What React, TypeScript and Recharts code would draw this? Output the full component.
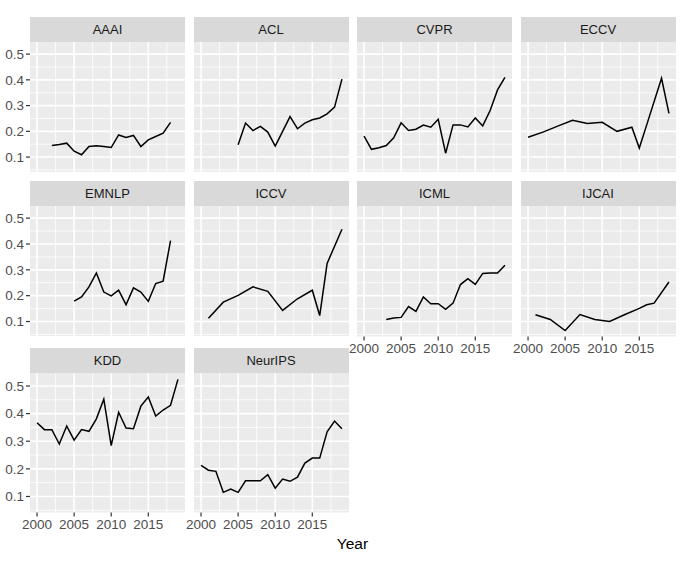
import React from 'react';
import { LineChart, Line, XAxis, YAxis, CartesianGrid } from 'recharts';

// ---- data ----
const AAAI_YEARS = [2002, 2003, 2004, 2005, 2006, 2007, 2008, 2009, 2010, 2011, 2012, 2013, 2014, 2015, 2016, 2017, 2018];
const AAAI_VALUES = [0.145, 0.149, 0.154, 0.123, 0.109, 0.141, 0.144, 0.141, 0.137, 0.186, 0.176, 0.184, 0.141, 0.167, 0.18, 0.193, 0.235];

const ACL_YEARS = [2005, 2006, 2007, 2008, 2009, 2010, 2011, 2012, 2013, 2014, 2015, 2016, 2017, 2018, 2019];
const ACL_VALUES = [0.148, 0.232, 0.203, 0.219, 0.197, 0.143, 0.2, 0.257, 0.21, 0.232, 0.245, 0.252, 0.268, 0.294, 0.403];

const CVPR_YEARS = [2000, 2001, 2002, 2003, 2004, 2005, 2006, 2007, 2008, 2009, 2010, 2011, 2012, 2013, 2014, 2015, 2016, 2017, 2018, 2019];
const CVPR_VALUES = [0.181, 0.13, 0.136, 0.145, 0.175, 0.233, 0.203, 0.208, 0.224, 0.216, 0.247, 0.115, 0.225, 0.225, 0.217, 0.252, 0.221, 0.281, 0.361, 0.41];

const ECCV_YEARS = [2000, 2002, 2004, 2006, 2008, 2010, 2012, 2014, 2015, 2016, 2018, 2019];
const ECCV_VALUES = [0.177, 0.197, 0.22, 0.243, 0.23, 0.235, 0.2, 0.216, 0.135, 0.225, 0.406, 0.27];

const EMNLP_YEARS = [2005, 2006, 2007, 2008, 2009, 2010, 2011, 2012, 2013, 2014, 2015, 2016, 2017, 2018];
const EMNLP_VALUES = [0.179, 0.195, 0.234, 0.288, 0.214, 0.199, 0.221, 0.165, 0.23, 0.214, 0.178, 0.247, 0.256, 0.413];

const ICCV_YEARS = [2001, 2003, 2005, 2007, 2009, 2011, 2013, 2015, 2016, 2017, 2019];
const ICCV_VALUES = [0.113, 0.175, 0.201, 0.234, 0.217, 0.143, 0.188, 0.221, 0.123, 0.325, 0.457];

const ICML_YEARS = [2003, 2004, 2005, 2006, 2007, 2008, 2009, 2010, 2011, 2012, 2013, 2014, 2015, 2016, 2017, 2018, 2019];
const ICML_VALUES = [0.108, 0.114, 0.116, 0.158, 0.139, 0.195, 0.169, 0.169, 0.147, 0.171, 0.243, 0.266, 0.244, 0.286, 0.288, 0.288, 0.318];

const IJCAI_YEARS = [2001, 2003, 2005, 2007, 2009, 2011, 2013, 2015, 2016, 2017, 2019];
const IJCAI_VALUES = [0.126, 0.108, 0.065, 0.127, 0.108, 0.1, 0.126, 0.151, 0.165, 0.171, 0.253];

const KDD_YEARS = [2000, 2001, 2002, 2003, 2004, 2005, 2006, 2007, 2008, 2009, 2010, 2011, 2012, 2013, 2014, 2015, 2016, 2017, 2018, 2019];
const KDD_VALUES = [0.367, 0.342, 0.342, 0.29, 0.355, 0.304, 0.342, 0.336, 0.381, 0.452, 0.284, 0.405, 0.348, 0.345, 0.427, 0.46, 0.391, 0.413, 0.43, 0.524];

const NEURIPS_YEARS = [2000, 2001, 2002, 2003, 2004, 2005, 2006, 2007, 2008, 2009, 2010, 2011, 2012, 2013, 2014, 2015, 2016, 2017, 2018, 2019];
const NEURIPS_VALUES = [0.213, 0.195, 0.191, 0.115, 0.127, 0.115, 0.157, 0.157, 0.157, 0.179, 0.13, 0.163, 0.155, 0.17, 0.221, 0.239, 0.239, 0.334, 0.373, 0.345];

const X_TICKS = [2000, 2005, 2010, 2015];
const X_MINOR = [2002.5, 2007.5, 2012.5, 2017.5];
const Y_TICKS = [0.1, 0.2, 0.3, 0.4, 0.5];
const Y_MINOR = [0.05, 0.15, 0.25, 0.35, 0.45];
const X_DOMAIN: [number, number] = [1999.05, 2019.95];
const Y_DOMAIN: [number, number] = [0.042, 0.547];

const build = (years: number[], values: number[]) => years.map((y, i) => ({ year: y, value: values[i] }));

// ---- layout ----
const FONT = '"Liberation Sans", Arial, Helvetica, sans-serif';
const PANEL_W = 155;
const STRIP_H = 25;
const Y_AXIS_W = 30;
const X_AXIS_H = 24;
const SIDE_M = 16;
const COL_X = [30, 193.5, 357, 520.5];
const ROWS = [
  { top: 42, h: 130 },
  { top: 205.5, h: 130.5 },
  { top: 372.5, h: 139.5 },
];

const PANELS = [
  { title: 'AAAI', data: build(AAAI_YEARS, AAAI_VALUES), r: 0, c: 0, sx: false, sy: true },
  { title: 'ACL', data: build(ACL_YEARS, ACL_VALUES), r: 0, c: 1, sx: false, sy: false },
  { title: 'CVPR', data: build(CVPR_YEARS, CVPR_VALUES), r: 0, c: 2, sx: false, sy: false },
  { title: 'ECCV', data: build(ECCV_YEARS, ECCV_VALUES), r: 0, c: 3, sx: false, sy: false },
  { title: 'EMNLP', data: build(EMNLP_YEARS, EMNLP_VALUES), r: 1, c: 0, sx: false, sy: true },
  { title: 'ICCV', data: build(ICCV_YEARS, ICCV_VALUES), r: 1, c: 1, sx: false, sy: false },
  { title: 'ICML', data: build(ICML_YEARS, ICML_VALUES), r: 1, c: 2, sx: true, sy: false },
  { title: 'IJCAI', data: build(IJCAI_YEARS, IJCAI_VALUES), r: 1, c: 3, sx: true, sy: false },
  { title: 'KDD', data: build(KDD_YEARS, KDD_VALUES), r: 2, c: 0, sx: true, sy: true },
  { title: 'NeurIPS', data: build(NEURIPS_YEARS, NEURIPS_VALUES), r: 2, c: 1, sx: true, sy: false },
];

const tickStyle = { fill: '#4D4D4D', fontSize: 13.5, fontFamily: FONT };

function Panel(p: any) {
  const left = COL_X[p.c];
  const row = ROWS[p.r];
  const ml = p.sy ? 0 : SIDE_M;
  const w = PANEL_W + (p.sy ? Y_AXIS_W : 0) + ml + SIDE_M;
  const h = row.h + (p.sx ? X_AXIS_H : 0);
  return (
    <>
      <div
        style={{
          position: 'absolute',
          left,
          top: row.top - STRIP_H,
          width: PANEL_W,
          height: STRIP_H,
          background: '#D9D9D9',
          display: 'flex',
          alignItems: 'center',
          justifyContent: 'center',
          fontSize: 13,
          color: '#1A1A1A',
          fontFamily: FONT,
        }}
      >
        {p.title}
      </div>
      <div style={{ position: 'absolute', left: left - (p.sy ? Y_AXIS_W : 0) - ml, top: row.top }}>
        <LineChart width={w} height={h} data={p.data} margin={{ top: 0, right: SIDE_M, bottom: 0, left: ml }}>
          <XAxis
            dataKey="year"
            type="number"
            domain={X_DOMAIN}
            ticks={X_TICKS}
            allowDataOverflow
            hide={!p.sx}
            height={X_AXIS_H}
            axisLine={false}
            tickLine={{ stroke: '#333333', strokeWidth: 1.2 }}
            tickSize={4}
            tickMargin={3}
            tick={tickStyle}
            interval={0}
          />
          <YAxis
            type="number"
            domain={Y_DOMAIN}
            ticks={Y_TICKS}
            allowDataOverflow
            hide={!p.sy}
            width={Y_AXIS_W}
            axisLine={false}
            tickLine={{ stroke: '#333333', strokeWidth: 1.2 }}
            tickSize={4}
            tickMargin={2}
            tick={tickStyle}
            interval={0}
            tickFormatter={(v: number) => v.toFixed(1)}
          />
          <CartesianGrid
            fill="#EBEBEB"
            fillOpacity={1}
            stroke="#FFFFFF"
            strokeWidth={0.8}
            horizontalValues={Y_MINOR}
            verticalValues={X_MINOR}
          />
          <CartesianGrid stroke="#FFFFFF" strokeWidth={1.6} horizontalValues={Y_TICKS} verticalValues={X_TICKS} />
          <Line
            type="linear"
            dataKey="value"
            stroke="#000000"
            strokeWidth={1.5}
            dot={false}
            isAnimationActive={false}
          />
        </LineChart>
      </div>
    </>
  );
}

export default function App() {
  return (
    <div
      style={{
        position: 'absolute',
        left: 0,
        top: 0,
        width: 700,
        height: 576,
        background: '#FFFFFF',
        fontFamily: FONT,
        overflow: 'hidden',
      }}
    >
      {PANELS.map((p) => (
        <Panel key={p.title} {...p} />
      ))}
      <div
        style={{
          position: 'absolute',
          left: 30,
          width: 645,
          top: 535,
          textAlign: 'center',
          fontSize: 15.5,
          color: '#000000',
          fontFamily: FONT,
        }}
      >
        Year
      </div>
    </div>
  );
}
